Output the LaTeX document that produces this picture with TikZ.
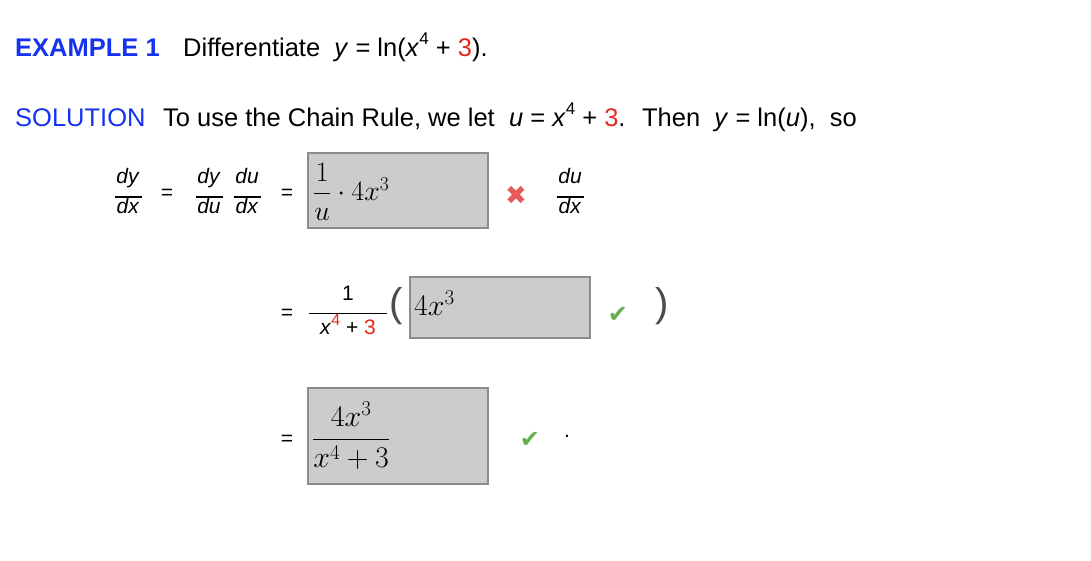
\documentclass[tikz,border=0pt]{standalone}
\usepackage{fix-cm}
\usepackage{amsmath}
\usepackage{fontspec}
\setmainfont{Liberation Sans}
\newfontfamily\symf{DejaVu Sans}
\begin{document}
\begin{tikzpicture}[x=1pt,y=-1pt,
  txt/.style={anchor=base west,inner sep=0pt,font=\fontsize{25.5}{28}\selectfont},
  ans/.style={draw=black!45,line width=1.5pt,fill=black!20}]
\useasboundingbox (0,0) rectangle (1091,560);
\definecolor{eb}{RGB}{20,50,240}
\definecolor{er}{RGB}{230,40,30}
\definecolor{ok}{RGB}{100,175,80}
\definecolor{bad}{RGB}{230,90,90}
\node[txt,text=eb] (ex) at (15,56) {\bfseries EXAMPLE 1};
\node[txt] (q) at (183,56) {Differentiate \ \textit{y} = ln(\textit{x}\raisebox{0.45em}{\fontsize{17}{17}\selectfont 4} + \textcolor{er}{3}).};
\node[txt,text=eb] (sol) at (15,126) {SOLUTION};
\node[txt] (s) at (163,126) {To use the Chain Rule, we let \ \textit{u} = \textit{x}\raisebox{0.45em}{\fontsize{17}{17}\selectfont 4} + \textcolor{er}{3}. \ Then \ \textit{y} = ln(\textit{u}), \ so};
% row 1
\tikzset{fr/.style={inner sep=0pt,font=\fontsize{21}{23}\selectfont}}
\newcommand\myfr[2]{\begin{tabular}{@{}c@{}}#1\\[-9pt]\rule{27pt}{1.5pt}\\[-7pt]#2\end{tabular}}
\node[fr] (f1) at (128,194) {\myfr{\textit{dy}}{\textit{dx}}};
\node[fr] (e1) at (167,194) {=};
\node[fr] (f2) at (209,194) {\myfr{\textit{dy}}{\textit{du}}};
\node[fr] (f3) at (247,194) {\myfr{\textit{du}}{\textit{dx}}};
\node[fr] (e2) at (287,194) {=};
\draw[ans] (308,153) rectangle (488,228);
\node[inner sep=0pt,anchor=west,font=\fontsize{28}{30}\selectfont] (a1) at (313,192) {$\dfrac{1}{u}\cdot 4x^3$};
\node[text=bad,font=\symf\fontsize{26}{26}\selectfont\bfseries] (x1) at (516,195) {✖};
\node[fr] (f4) at (570,194) {\myfr{\textit{du}}{\textit{dx}}};
% row 2
\node[fr] (e3) at (287,314) {=};
\node[fr] (f5) at (348,313) {\begin{tabular}{@{}c@{}}1\\[-9pt]\rule{78pt}{1.5pt}\\[-7pt]\textit{x}\raisebox{0.45em}{\fontsize{16}{16}\selectfont\color{er}4} + \textcolor{er}{3}\end{tabular}};
\node[inner sep=0pt,font=\fontsize{40}{40}\selectfont\color{black!70}] (lp) at (396,306) {(};
\draw[ans] (410,277) rectangle (590,338);
\node[inner sep=0pt,anchor=west,font=\fontsize{30}{32}\selectfont] (a2) at (414,303) {$4x^3$};
\node[text=ok,font=\symf\fontsize{24}{24}\selectfont\bfseries] (c1) at (618,315) {✔};
\node[inner sep=0pt,font=\fontsize{40}{40}\selectfont\color{black!70}] (rp) at (662,306) {)};
% row 3
\node[fr] (e4) at (287,440) {=};
\draw[ans] (308,388) rectangle (488,484);
\node[inner sep=0pt,anchor=west,font=\fontsize{30}{32}\selectfont] (a3) at (312,436) {$\dfrac{4x^3}{x^4+3}$};
\node[text=ok,font=\symf\fontsize{24}{24}\selectfont\bfseries] (c2) at (530,440) {✔};
\node[fr] (dot) at (567,436) {.};
\end{tikzpicture}
\end{document}
